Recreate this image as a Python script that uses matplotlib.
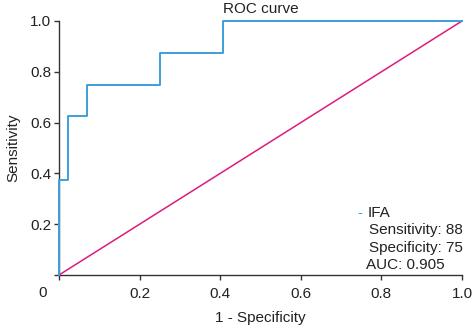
import numpy as np
import matplotlib
matplotlib.use('Agg')
import matplotlib.pyplot as plt

plt.rcParams['font.family'] = ['Liberation Sans', 'DejaVu Sans']

# ROC operating points (1 - specificity, sensitivity)
fpr = [0.0, 0.0, 0.022, 0.022, 0.069, 0.069, 0.25, 0.25, 0.408, 0.408, 1.0]
tpr = [0.0, 0.375, 0.375, 0.625, 0.625, 0.75, 0.75, 0.875, 0.875, 1.0, 1.0]
ref_line = [0.0, 1.0]

test_name = 'IFA'
sensitivity = 88
specificity = 75
auc = 0.905

ticks = [0, 0.2, 0.4, 0.6, 0.8, 1.0]
tick_labels = ['', '0.2', '0.4', '0.6', '0.8', '1.0']

blue = '#3d9fda'
magenta = '#dc1c7c'
txt = '#222222'

fig = plt.figure(figsize=(4.74, 3.26), dpi=100)
ax = fig.add_axes([59/474, 1 - 275/326, 403/474, 254/326])

ax.plot(ref_line, ref_line, color=magenta, lw=1.1, zorder=3, clip_on=False)
ax.plot(fpr, tpr, color=blue, lw=1.4, zorder=4, clip_on=False)

ax.set_xlim(0, 1)
ax.set_ylim(0, 1)
ax.set_xticks(ticks)
ax.set_xticklabels(tick_labels)
ax.set_yticks(ticks)
ax.set_yticklabels(tick_labels)
ax.tick_params(direction='out', length=3.5, width=1, labelsize=11,
               colors='#333333', labelcolor=txt)
ax.tick_params(axis='x', pad=5)
ax.tick_params(axis='y', pad=2)
for s in ['top', 'right']:
    ax.spines[s].set_visible(False)
for s in ['left', 'bottom']:
    ax.spines[s].set_color('#333333')
    ax.spines[s].set_linewidth(1.0)

# shared origin label
ax.text(-0.04, -0.07, '0', transform=ax.transAxes, ha='center', va='center',
        fontsize=11, color=txt)

ax.set_title('ROC curve', fontsize=11, pad=6, color=txt)
ax.set_xlabel('1 - Specificity', fontsize=11, labelpad=7, color=txt)
ax.set_ylabel('Sensitivity', fontsize=11, labelpad=7, color=txt)

# summary block
x0, y0, dy = 0.765, 0.245, 0.069
ax.text(x0 - 0.012, y0, '-', transform=ax.transAxes, color=blue,
        fontsize=10.5, ha='right', va='center')
ax.text(x0, y0, test_name, transform=ax.transAxes, fontsize=11,
        va='center', color=txt)
ax.text(x0 + 0.003, y0 - dy, f'Sensitivity: {sensitivity}', transform=ax.transAxes,
        fontsize=11, va='center', color=txt)
ax.text(x0 + 0.003, y0 - 2 * dy, f'Specificity: {specificity}', transform=ax.transAxes,
        fontsize=11, va='center', color=txt)
ax.text(x0 - 0.002, y0 - 3 * dy, f'AUC: {auc}', transform=ax.transAxes,
        fontsize=11, va='center', color=txt)

fig.savefig('out.png', dpi=100)
